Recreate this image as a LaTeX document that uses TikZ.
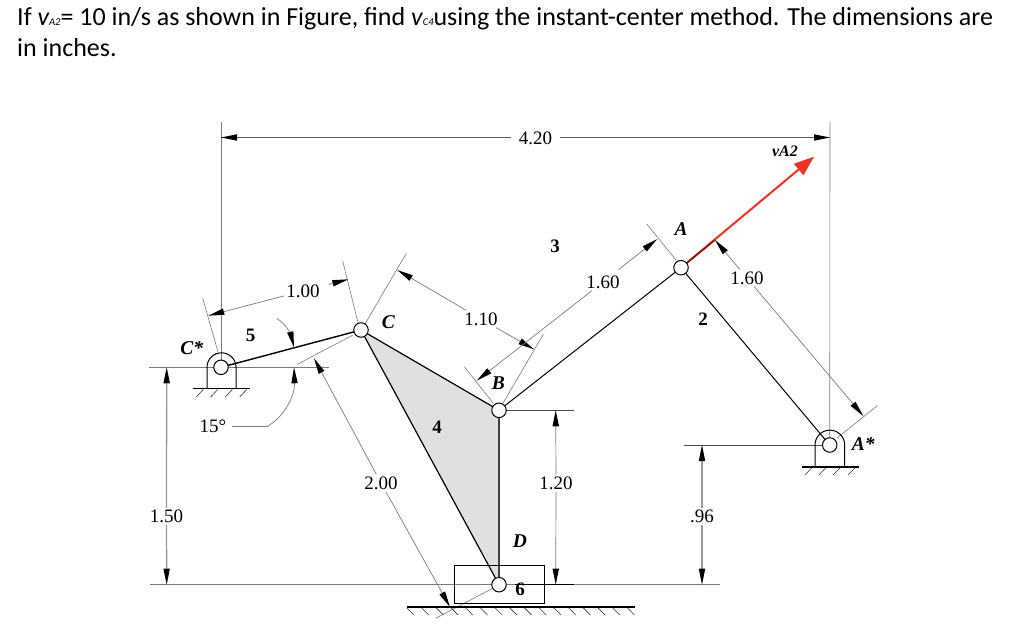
\documentclass[tikz,border=0pt]{standalone}
\usepackage{fontspec}
\setmainfont{Liberation Serif}
\newfontfamily\titlefont{Carlito}
\usetikzlibrary{arrows.meta}
\definecolor{redv}{HTML}{EE3224}
\definecolor{dimgray}{gray}{0.48}
\tikzset{
  x=1pt,y=-1pt,
  dimtext/.style={font=\fontsize{19}{20}\selectfont,inner sep=2pt},
  partlabel/.style={font=\fontsize{19.5}{20}\selectfont\bfseries\itshape,inner sep=0pt},
  linklabel/.style={font=\fontsize{19}{20}\selectfont\bfseries,inner sep=0pt},
  titletext/.style={font=\fontsize{26}{28}\selectfont\titlefont,anchor=base west,inner sep=0pt},
  pin/.style={circle,draw=black,fill=white,line width=1pt,minimum size=14.5pt,inner sep=0pt},
  extline/.style={draw=dimgray,line width=.6pt},
  dimline/.style={draw=dimgray,line width=.7pt,-{Triangle[length=16pt,width=6.5pt,color=black,fill=black,line width=0pt]}},
  thickgray/.style={draw=black!40,line width=1.3pt,-{Triangle[length=16pt,width=6.5pt,color=black,fill=black,line width=0pt]}},
  linkline/.style={draw=black,line width=1pt},
  bar/.style={draw=black,line width=1.6pt},
  hatch/.style={draw=black!80,line width=.6pt},
  support/.style={draw=black,line width=1pt},
}
\begin{document}
\begin{tikzpicture}
\useasboundingbox (0,0) rectangle (1024,636);
% title
\node[titletext] (t1) at (17,25.5) {If {\itshape v}{\fontsize{10.5}{10}\selectfont\itshape A2}= 10 in/s as shown in Figure, find {\itshape v}{\fontsize{10.5}{10}\selectfont\itshape C4}using the instant-center method. The dimensions are};
\node[titletext] (t2) at (17,57) {in inches.};

% joints as coordinates
\coordinate (Cs) at (221,367.3);
\coordinate (Cj) at (361,330);
\coordinate (Bj) at (499,410.3);
\coordinate (Dj) at (499,584.7);
\coordinate (Aj) at (681,267.7);
\coordinate (As) at (829.7,445);

% long extension lines
\draw[extline] (221,122) -- (Cs);
\draw[extline] (830,122) -- (As);
\draw[extline] (149.3,367.3) -- (329,367.3);
\draw[extline] (150,584.7) -- (720,584.7);
\draw[extline,draw=black!70] (Bj) -- (574,410.3);
\draw[extline,draw=black!70] (684,445) -- (As);
\draw[extline] (353,335) -- (297.3,364.3);
\draw[extline] (202.7,298.3) -- (218,352);
\draw[extline] (342.7,261) -- (358,322.7);
\draw[extline] (365,324) -- (406.3,253.3);
\draw[extline] (503.3,402.7) -- (543.3,334.3);
\draw[extline] (464.3,366.7) -- (493.3,403.3);
\draw[extline] (646.7,224) -- (676,260);
\draw[extline] (836.7,438.3) -- (877.3,405.7);
\draw[extline] (492.7,588.3) -- (435.7,618.3);

% triangle link 4
\fill[black!12] (Cj) -- (Bj) -- (Dj) -- cycle;
\draw[linkline,line width=1.2pt] (Cj) -- (Bj);
\draw[linkline,line width=1.2pt] (Cj) -- (Dj);
\draw[linkline,draw=black!75,line width=1.4pt] (Bj) -- (Dj);
% other links
\draw[linkline,line width=1.4pt] (Cs) -- (Cj);
\draw[linkline] (Bj) -- (Aj);
\draw[linkline] (Aj) -- (As);

% slider and ground
\draw[support] (454.3,565.7) rectangle (544.3,603.3);
\draw[draw=black,line width=.8pt] (515,584.7) -- (574,584.7);
\draw[bar,line width=2pt] (406.7,606.7) -- (635,606.7);
\foreach \x in {407,421.7,436.4,451.1,465.8,480.5,495.2,509.9,524.6,539.3,554,568.7,583.4,598.1,612.8,627.5}
  \draw[hatch] (\x,608) -- (\x+7,615);

% supports
\draw[support] (207,388.3) -- (207,367.3) arc[start angle=180,end angle=360,radius=14.5] -- (236,388.3);
\draw[bar] (192.7,388.3) -- (250,388.3);
\foreach \x in {203.3,217.7,232.3,246.7}
  \draw[hatch] (\x,389.5) -- (\x-7,397);
\draw[support] (815,467) -- (815,445) arc[start angle=180,end angle=360,radius=14.85] -- (844.7,467);
\draw[bar] (801.7,467) -- (858.7,467);
\foreach \x in {811.7,825.7,840,855}
  \draw[hatch] (\x,468) -- (\x-7,475);

% velocity arrow
\draw[draw=redv,line width=2pt,-{Triangle[length=20pt,width=15pt,color=redv,fill=redv,line width=0pt]}] (Aj) -- (814,156.7);
\draw[draw=black!45!redv,line width=1.6pt] (Aj) -- (715,240);

% pins
\node[pin] (pCs) at (Cs) {};
\node[pin] (pC) at (Cj) {};
\node[pin] (pB) at (Bj) {};
\node[pin] (pD) at (Dj) {};
\node[pin] (pA) at (Aj) {};
\node[pin] (pAs) at (As) {};

% dimension labels
\node[dimtext,inner xsep=8pt] (d420) at (535.5,138) {4.20};
\node[dimtext] (d100) at (303,291) {1.00};
\node[dimtext] (d110) at (481,319) {1.10};
\node[dimtext] (d160a) at (603,282) {1.60};
\node[dimtext] (d160b) at (747,278) {1.60};
\node[dimtext] (d200) at (381,483) {2.00};
\node[dimtext] (d120) at (556,483.5) {1.20};
\node[dimtext] (d150) at (166.5,516.5) {1.50};
\node[dimtext] (d096) at (702,516.5) {.96};
\node[dimtext] (d15) at (213,426) {15°};

% dimension tips
\coordinate (t420a) at (221,137.5);
\coordinate (t420b) at (830,137.5);
\coordinate (t100a) at (208.3,315.7);
\coordinate (t100b) at (348.3,279.3);
\coordinate (t110a) at (397.3,270);
\coordinate (t110b) at (534,349.3);
\coordinate (t160a) at (476.7,380.7);
\coordinate (t160b) at (657.3,239);
\coordinate (t160c) at (715,240);
\coordinate (t160d) at (863.3,416);
\coordinate (t200a) at (314,358.3);
\coordinate (t200b) at (450,607);
\coordinate (t120a) at (555.7,410.3);
\coordinate (t120b) at (555.7,584.7);
\coordinate (t150a) at (166.7,367.3);
\coordinate (t150b) at (166.7,584.7);
\coordinate (t096a) at (702,445);
\coordinate (t096b) at (702,584.7);

\draw[dimline,draw=black!65] (d420.west |- t420a) -- (t420a);
\draw[dimline,draw=black!65] (d420.east |- t420b) -- (t420b);
\draw[dimline] (d100) -- (t100a);
\draw[dimline,shorten <=7pt] (d100) -- (t100b);
\draw[dimline] (d110) -- (t110a);
\draw[dimline] (d110) -- (t110b);
\draw[dimline] (d160a) -- (t160a);
\draw[dimline,shorten <=6pt] (d160a) -- (t160b);
\draw[dimline] (d160b) -- (t160c);
\draw[dimline] (d160b) -- (t160d);
\draw[dimline] (d200) -- (t200a);
\draw[dimline] (d200) -- (t200b);
\draw[dimline] (d120) -- (t120a);
\draw[dimline] (d120) -- (t120b);
\draw[thickgray] (d150) -- (t150a);
\draw[thickgray] (d150) -- (t150b);
\draw[thickgray] (d096) -- (t096a);
\draw[thickgray] (d096) -- (t096b);

% angle markers
\coordinate (a5s) at (276.7,318.3);
\coordinate (a5t) at (294,347.5);
\draw[dimline] (a5s) .. controls (286,324) and (291,335) .. (a5t);
\coordinate (a15k) at (268,426);
\coordinate (a15t) at (294,367.3);
\draw[extline,shorten <=3pt] (d15) -- (a15k);
\draw[dimline] (a15k) .. controls (285,416) and (295,395) .. (a15t);

% part labels
\node[partlabel] (lCs) at (191.7,348.3) {C*};
\node[partlabel] (lC) at (388.3,321.7) {C};
\node[partlabel] (lB) at (498.3,382.7) {B};
\node[partlabel] (lD) at (520,541) {D};
\node[partlabel] (lA) at (681,229.3) {A};
\node[partlabel] (lAs) at (863.3,444.3) {A*};
\node[partlabel,font=\fontsize{16}{16}\selectfont\bfseries\itshape] (lv) at (785,151.7) {vA2};
\node[linklabel] (l5) at (250.7,335.7) {5};
\node[linklabel] (l3) at (555,246) {3};
\node[linklabel] (l4) at (437,427) {4};
\node[linklabel] (l2) at (703,319) {2};
\node[linklabel] (l6) at (520,589.3) {6};
\end{tikzpicture}
\end{document}
